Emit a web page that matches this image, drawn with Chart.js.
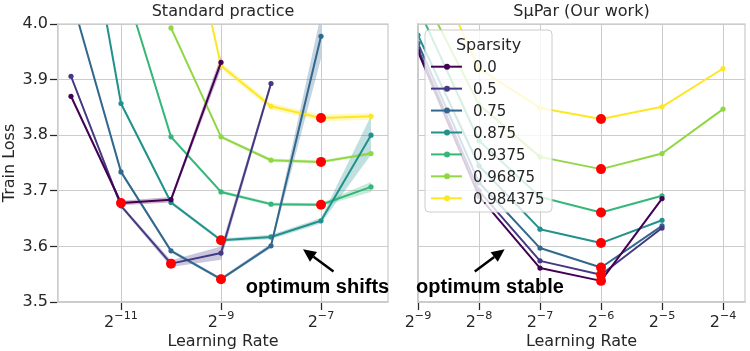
<!DOCTYPE html>
<html>
<head>
<meta charset="utf-8">
<script src="https://cdn.jsdelivr.net/npm/chart.js@4/dist/chart.umd.min.js"></script>
<style>
  body { margin: 0; background: #fff; }
  #wrap { position: relative; width: 750px; height: 351px; }
  #leftChart { position: absolute; left: 0; top: 0; }
  #rightChart { position: absolute; left: 400px; top: 0; }
</style>
</head>
<body>
<div id="wrap">
  <canvas id="leftChart" width="400" height="351"></canvas>
  <canvas id="rightChart" width="350" height="351"></canvas>
</div>
<script>
const sparsity = ['0.0', '0.5', '0.75', '0.875', '0.9375', '0.96875', '0.984375'];
const colors = ['#440154', '#443983', '#31688e', '#21918c', '#35b779', '#90d743', '#fde725'];

// Standard practice: x is log2(learning rate)
const lrStandard = [-12, -11, -10, -9, -8, -7, -6];
const std00 = [3.870, 3.678, 3.684, 3.931, null, null, null];
const std05 = [3.906, 3.673, 3.569, 3.588, 3.893, null, null];
const std075 = [4.050, 3.734, 3.592, 3.541, 3.601, 3.978, null];
const std0875 = [4.360, 3.857, 3.679, 3.611, 3.617, 3.646, 3.800];
const std09375 = [null, 4.090, 3.797, 3.698, 3.676, 3.675, 3.707];
const std096875 = [null, null, 3.993, 3.797, 3.755, 3.752, 3.767];
const std0984375 = [null, null, 4.330, 3.925, 3.852, 3.831, 3.834];

// half width of the shaded band around each standard practice curve
const spread00 = [0.003, 0.004, 0.005, 0.012, null, null, null];
const spread05 = [0.003, 0.003, 0.006, 0.012, 0.006, null, null];
const spread075 = [0.003, 0.003, 0.003, 0.003, 0.004, 0.040, null];
const spread0875 = [0.003, 0.003, 0.003, 0.003, 0.004, 0.005, 0.035];
const spread09375 = [null, 0.003, 0.003, 0.003, 0.003, 0.003, 0.009];
const spread096875 = [null, null, 0.003, 0.003, 0.003, 0.003, 0.003];
const spread0984375 = [null, null, 0.006, 0.006, 0.006, 0.006, 0.006];

// SuPar
const lrSupar = [-9, -8, -7, -6, -5, -4];
const sup00 = [3.950, 3.690, 3.561, 3.538, 3.686, null];
const sup05 = [3.955, 3.700, 3.574, 3.549, 3.633, null];
const sup075 = [3.965, 3.715, 3.597, 3.562, 3.637, null];
const sup0875 = [3.980, 3.745, 3.631, 3.606, 3.647, null];
const sup09375 = [4.030, 3.790, 3.689, 3.661, 3.691, null];
const sup096875 = [4.070, 3.855, 3.761, 3.739, 3.767, 3.847];
const sup0984375 = [4.160, 3.920, 3.849, 3.829, 3.851, 3.920];

const stdTicks = [-11, -9, -7];
const suparTicks = [-9, -8, -7, -6, -5, -4];
const lossTicks = [3.5, 3.6, 3.7, 3.8, 3.9, 4.0];

const TEXT = '#262626';
const GRID = '#cccccc';
Chart.defaults.font.family = '"DejaVu Sans", sans-serif';
Chart.defaults.color = TEXT;

function buildDatasets(lr, series, spreads) {
  const ds = [];
  const optimum = [];
  series.forEach(function(ys, i) {
    const pts = lr.map((x, j) => ({x: x, y: ys[j]})).filter(p => p.y !== null);
    if (spreads) {
      const sp = spreads[i];
      const upper = lr.map((x, j) => ({x: x, y: ys[j] === null ? null : ys[j] + sp[j]})).filter(p => p.y !== null);
      const lower = lr.map((x, j) => ({x: x, y: ys[j] === null ? null : ys[j] - sp[j]})).filter(p => p.y !== null);
      ds.push({data: upper, borderColor: 'rgba(0,0,0,0)', borderWidth: 0, pointRadius: 0, fill: false, order: 3, clip: 0});
      ds.push({data: lower, borderColor: 'rgba(0,0,0,0)', borderWidth: 0, pointRadius: 0, fill: '-1',
               backgroundColor: colors[i] + '48', order: 3, clip: 0});
    }
    ds.push({
      label: sparsity[i], data: pts, borderColor: colors[i], backgroundColor: colors[i],
      borderWidth: 2, pointRadius: 2.6, pointBorderWidth: 0, borderJoinStyle: 'round',
      fill: false, order: 2, clip: 0
    });
    optimum.push(pts.reduce((a, b) => (b.y < a.y ? b : a)));
  });
  ds.push({data: optimum, showLine: false, pointRadius: 5, pointBorderWidth: 0,
           backgroundColor: '#ff0000', borderColor: '#ff0000', order: 0});
  return ds;
}

function drawArrow(ctx, x1, y1, x2, y2) {
  const ang = Math.atan2(y2 - y1, x2 - x1), head = 13, half = 6;
  const bx = x2 - head * Math.cos(ang), by = y2 - head * Math.sin(ang);
  ctx.strokeStyle = '#000';
  ctx.fillStyle = '#000';
  ctx.lineWidth = 2.5;
  ctx.beginPath(); ctx.moveTo(x1, y1); ctx.lineTo(bx, by); ctx.stroke();
  ctx.beginPath();
  ctx.moveTo(x2, y2);
  ctx.lineTo(bx + half * Math.sin(ang), by - half * Math.cos(ang));
  ctx.lineTo(bx - half * Math.sin(ang), by + half * Math.cos(ang));
  ctx.closePath(); ctx.fill();
}

const panelPlugin = {
  id: 'panel',
  afterDraw(chart, args, opts) {
    const ctx = chart.ctx, a = chart.chartArea;
    const xs = chart.scales.x, ys = chart.scales.y;
    ctx.save();
    // frame
    ctx.strokeStyle = GRID; ctx.lineWidth = 1.25;
    ctx.strokeRect(a.left, a.top, a.right - a.left, a.bottom - a.top);
    // x tick labels as powers of two
    xs.ticks.forEach(function(t) {
      const px = xs.getPixelForValue(t.value);
      const sup = (t.value < 0 ? '\u2212' : '') + Math.abs(t.value);
      ctx.font = '16px "DejaVu Sans"'; const wb = ctx.measureText('2').width;
      ctx.font = '11.2px "DejaVu Sans"'; const ws = ctx.measureText(sup).width;
      const x0 = px - (wb + ws) / 2;
      ctx.fillStyle = TEXT; ctx.textAlign = 'left'; ctx.textBaseline = 'alphabetic';
      ctx.font = '16px "DejaVu Sans"'; ctx.fillText('2', x0, a.bottom + 25);
      ctx.font = '11.2px "DejaVu Sans"'; ctx.fillText(sup, x0 + wb, a.bottom + 17);
    });
    // title
    ctx.font = '16px "DejaVu Sans"'; ctx.fillStyle = TEXT; ctx.textAlign = 'center';
    ctx.fillText(opts.title, (a.left + a.right) / 2, 16);
    // annotation
    const n = opts.note;
    drawArrow(ctx, xs.getPixelForValue(n.from[0]), ys.getPixelForValue(n.from[1]),
              xs.getPixelForValue(n.to[0]), ys.getPixelForValue(n.to[1]));
    ctx.font = 'bold 20px "Liberation Sans", Arial, sans-serif';
    ctx.fillStyle = '#000'; ctx.textAlign = 'center'; ctx.textBaseline = 'alphabetic';
    ctx.fillText(n.text, xs.getPixelForValue(n.at[0]), ys.getPixelForValue(n.at[1]));
    // legend
    if (opts.legend) {
      const L = opts.legend;
      ctx.beginPath();
      ctx.roundRect(L.x, L.y, L.w, L.h, 4);
      ctx.fillStyle = 'rgba(255,255,255,0.8)'; ctx.fill();
      ctx.strokeStyle = GRID; ctx.lineWidth = 1; ctx.stroke();
      ctx.fillStyle = TEXT; ctx.textAlign = 'center'; ctx.font = '16px "DejaVu Sans"';
      ctx.fillText('Sparsity', L.x + L.w / 2, L.y + 19.5);
      sparsity.forEach(function(s, i) {
        const y = L.y + 36.7 + i * 21.93;
        ctx.strokeStyle = colors[i]; ctx.lineWidth = 2;
        ctx.beginPath(); ctx.moveTo(L.x + 6, y); ctx.lineTo(L.x + 37, y); ctx.stroke();
        ctx.fillStyle = colors[i];
        ctx.beginPath(); ctx.arc(L.x + 22, y, 3, 0, Math.PI * 2); ctx.fill();
        ctx.fillStyle = TEXT; ctx.textAlign = 'left'; ctx.font = '15px "DejaVu Sans"';
        ctx.fillText(s, L.x + 48, y + 5.3);
      });
    }
    ctx.restore();
  }
};

function makeChart(id, cfg) {
  return new Chart(document.getElementById(id), {
    type: 'line',
    data: {datasets: buildDatasets(cfg.lr, cfg.series, cfg.spreads)},
    options: {
      responsive: false,
      animation: false,
      devicePixelRatio: 1,
      layout: {padding: {top: 24, right: cfg.padRight, bottom: 0, left: 0}},
      plugins: {
        legend: {display: false},
        tooltip: {enabled: false},
        panel: {title: cfg.title, note: cfg.note, legend: cfg.legend}
      },
      scales: {
        x: {
          type: 'linear', min: cfg.xMin, max: cfg.xMax,
          afterBuildTicks: s => { s.ticks = cfg.xTicks.map(v => ({value: v})); },
          afterFit: s => { s.height = 49; },
          ticks: {display: false},
          grid: {color: GRID, lineWidth: 1, tickColor: TEXT, tickLength: 8, tickWidth: 1.25},
          border: {color: GRID, width: 1.25},
          title: {display: true, text: 'Learning Rate', font: {size: 16}, color: TEXT, padding: 0}
        },
        y: {
          type: 'linear', min: 3.5, max: 4.0,
          afterBuildTicks: s => { s.ticks = lossTicks.map(v => ({value: v})); },
          afterFit: s => { s.width = cfg.yWidth; },
          ticks: {display: cfg.showY, font: {size: 16}, color: TEXT, padding: 2,
                  callback: v => v.toFixed(1)},
          grid: {color: GRID, lineWidth: 1, tickColor: TEXT, tickLength: 8, tickWidth: 1.25,
                 drawTicks: cfg.showY},
          border: {color: GRID, width: 1.25},
          title: {display: cfg.showY, text: 'Train Loss', font: {size: 16}, color: TEXT, padding: 0}
        }
      }
    },
    plugins: [panelPlugin]
  });
}

makeChart('leftChart', {
  lr: lrStandard,
  series: [std00, std05, std075, std0875, std09375, std096875, std0984375],
  spreads: [spread00, spread05, spread075, spread0875, spread09375, spread096875, spread0984375],
  xMin: -12.26, xMax: -5.66, xTicks: stdTicks,
  yWidth: 58, showY: true, padRight: 12,
  title: 'Standard practice',
  note: {text: 'optimum shifts', at: [-7.07, 3.517], from: [-6.75, 3.555], to: [-7.36, 3.595]}
});

makeChart('rightChart', {
  lr: lrSupar,
  series: [sup00, sup05, sup075, sup0875, sup09375, sup096875, sup0984375],
  spreads: null,
  xMin: -9, xMax: -3.64, xTicks: suparTicks,
  yWidth: 18, showY: false, padRight: 3,
  title: 'S\u03bcPar (Our work)',
  note: {text: 'optimum stable', at: [-7.82, 3.517], from: [-8.07, 3.555], to: [-7.58, 3.595]},
  legend: {x: 25, y: 30, w: 127, h: 182}
});
</script>
</body>
</html>
